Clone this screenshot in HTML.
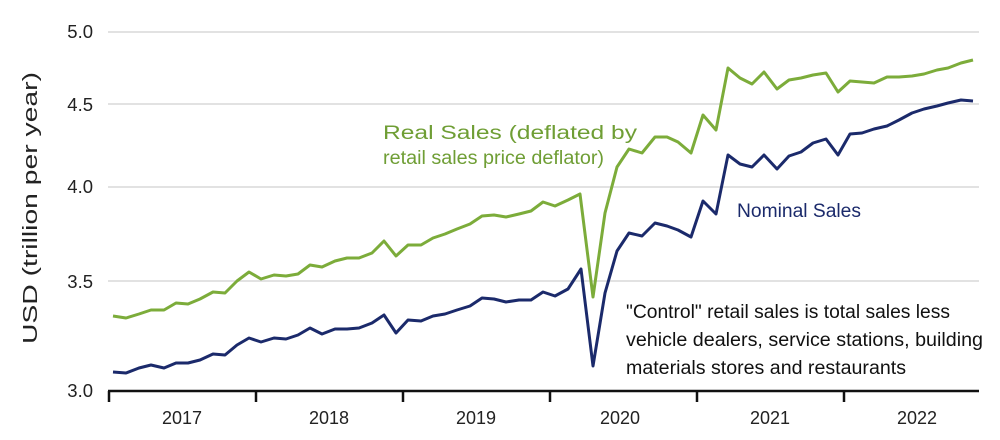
<!DOCTYPE html>
<html><head><meta charset="utf-8"><style>html,body{margin:0;padding:0;background:#fff}svg{display:block}</style></head>
<body>
<svg width="1000" height="440" xmlns="http://www.w3.org/2000/svg" font-family="Liberation Sans, sans-serif">
<g stroke="#d9d9d9" stroke-width="1.5">
<line x1="108" x2="979" y1="32" y2="32"/><line x1="108" x2="979" y1="104" y2="104"/>
<line x1="108" x2="979" y1="187" y2="187"/><line x1="108" x2="979" y1="281" y2="281"/>
</g>
<g font-size="18.5" fill="#222" text-anchor="end">
<text x="93" y="38">5.0</text><text x="93" y="111">4.5</text><text x="93" y="193">4.0</text><text x="93" y="288">3.5</text><text x="93" y="397">3.0</text>
</g>
<text transform="translate(37,208) rotate(-90)" font-size="20" fill="#222" text-anchor="middle" textLength="272" lengthAdjust="spacingAndGlyphs">USD (trillion per year)</text>
<g stroke="#111" stroke-width="2.5">
<line x1="108" x2="979" y1="391" y2="391"/>
<line x1="109" x2="109" y1="391" y2="402"/><line x1="256" x2="256" y1="391" y2="402"/><line x1="403" x2="403" y1="391" y2="402"/><line x1="550" x2="550" y1="391" y2="402"/><line x1="697" x2="697" y1="391" y2="402"/><line x1="844" x2="844" y1="391" y2="402"/>
</g>
<g font-size="18" fill="#222" text-anchor="middle">
<text x="182" y="424">2017</text><text x="329" y="424">2018</text><text x="476" y="424">2019</text><text x="620" y="424">2020</text><text x="770" y="424">2021</text><text x="917" y="424">2022</text>
</g>
<polyline fill="none" stroke="#7cac3a" stroke-width="3" stroke-linejoin="round" points="113,316 126,318 139,314 151,310 164,310 176,303 188,304 200,299 213,292 225,293 237,281 249,272 261,279 274,275 286,276 298,274 310,265 322,267 335,261 347,258 359,258 372,253 384,241 396,256 408,245 421,245 433,238 445,234 457,229 470,224 482,216 494,215 506,217 519,214 531,211 543,202 555,206 568,200 580,194 593,297 605,213 617,167 629,149 642,153 655,137 667,137 678,142 691,153 703,115 716,130 728,68 740,78 752,84 764,72 777,89 789,80 801,78 813,75 826,73 838,92 850,81 862,82 874,83 887,77 899,77 912,76 924,74 937,70 948,68 961,63 973,60"/>
<polyline fill="none" stroke="#1b2a6b" stroke-width="3" stroke-linejoin="round" points="113,372 126,373 139,368 151,365 164,368 176,363 188,363 200,360 213,354 225,355 237,345 249,338 261,342 274,338 286,339 298,335 310,328 322,334 335,329 347,329 359,328 372,323 384,315 396,333 408,320 421,321 433,316 445,314 457,310 470,306 482,298 494,299 506,302 519,300 531,300 543,292 555,296 568,289 581,269 593,366 605,293 617,251 629,233 642,236 655,223 667,226 678,230 691,237 703,201 716,214 728,155 740,164 752,167 764,155 777,169 789,156 801,152 813,143 826,139 838,155 850,134 862,133 874,129 887,126 899,120 912,113 924,109 937,106 948,103 961,100 973,101"/>
<g font-size="19" fill="#6f9e35">
<text x="383" y="139" textLength="254" lengthAdjust="spacingAndGlyphs">Real Sales (deflated by</text>
<text x="383" y="164" textLength="221" lengthAdjust="spacingAndGlyphs">retail sales price deflator)</text>
</g>
<text x="737" y="217" font-size="19" fill="#1b2a6b" textLength="124" lengthAdjust="spacingAndGlyphs">Nominal Sales</text>
<g font-size="19" fill="#111">
<text x="626" y="318" textLength="324" lengthAdjust="spacingAndGlyphs">"Control" retail sales is total sales less</text>
<text x="626" y="346" textLength="357" lengthAdjust="spacingAndGlyphs">vehicle dealers, service stations, building</text>
<text x="626" y="374" textLength="280" lengthAdjust="spacingAndGlyphs">materials stores and restaurants</text>
</g>
</svg>
</body></html>
